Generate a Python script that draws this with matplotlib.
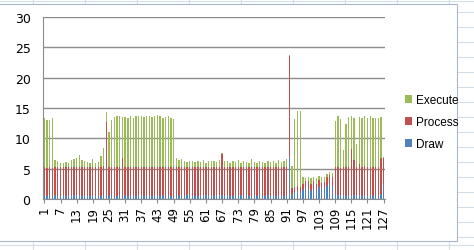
import matplotlib
matplotlib.use("Agg")
import matplotlib.pyplot as plt
from matplotlib.lines import Line2D
from matplotlib.patches import Rectangle

# frame numbers 1..127
frames = list(range(1, 128))
tick_labels = [str(i) for i in range(1, 128, 6)]

draw = [0.6, 0.5, 0.6, 0.5, 0.6, 0.5, 0.5, 0.6, 0.5, 0.6,
        0.5, 0.6, 0.6, 0.5, 0.5, 0.6, 0.5, 0.5, 0.6, 0.5,
        0.6, 0.5, 0.6, 0.6, 0.5, 0.6, 0.5, 0.5, 0.6, 0.5,
        0.6, 0.5, 0.5, 0.6, 0.5, 0.6, 0.6, 0.5, 0.5, 0.6,
        0.5, 0.6, 0.5, 0.5, 0.6, 0.5, 0.6, 0.5, 0.5, 0.6,
        0.5, 0.6, 0.5, 0.7, 0.6, 0.6, 0.5, 0.5, 0.6, 0.5,
        0.6, 0.5, 0.6, 0.5, 0.7, 0.6, 0.6, 0.5, 0.6, 0.5,
        0.5, 0.6, 0.5, 0.6, 0.5, 0.6, 0.5, 0.5, 0.6, 0.5,
        0.6, 0.5, 0.5, 0.6, 0.5, 0.6, 0.5, 0.5, 0.6, 0.5,
        0.6, 7.0, 0.9, 1.1, 1.2, 1.2, 1.5, 1.8, 1.6, 1.4,
        1.7, 1.5, 1.9, 1.6, 1.8, 2.1, 2.4, 2.2, 0.8, 0.6,
        0.5, 0.6, 0.5, 0.6, 0.5, 0.6, 0.5, 0.6, 0.5, 0.6,
        0.5, 0.6, 0.5, 0.6, 0.5, 0.8, 2.5]

process = [4.7, 4.6, 4.7, 4.6, 4.7, 4.8, 4.7, 4.6, 4.7, 4.6,
           4.8, 4.7, 4.6, 4.8, 4.7, 4.6, 4.7, 4.8, 4.6, 4.7,
           4.6, 4.7, 4.8, 12.1, 4.7, 4.6, 4.7, 4.8, 4.6, 6.2,
           4.6, 4.7, 4.8, 4.6, 4.7, 4.6, 4.6, 4.7, 4.8, 4.6,
           4.7, 4.6, 4.8, 4.7, 4.6, 4.7, 4.6, 4.8, 4.7, 4.6,
           4.7, 4.6, 4.7, 4.6, 4.6, 4.7, 4.8, 4.7, 4.6, 4.7,
           4.6, 4.7, 4.6, 4.8, 4.6, 4.7, 6.8, 4.8, 4.6, 4.7,
           4.7, 4.6, 4.8, 4.6, 4.7, 4.6, 4.7, 4.8, 4.6, 4.7,
           4.6, 4.7, 4.8, 4.6, 4.7, 4.6, 4.7, 4.8, 4.6, 4.7,
           4.6, 16.6, 0.9, 0.8, 0.9, 0.8, 1.0, 1.2, 1.4, 1.1,
           1.2, 1.0, 1.3, 1.1, 1.0, 1.5, 1.6, 1.5, 4.4, 4.7,
           4.6, 4.6, 4.7, 4.7, 7.8, 5.9, 4.8, 5.2, 4.8, 4.9,
           4.8, 4.6, 4.7, 4.6, 4.8, 6.0, 4.3]

execute = [8.1, 7.9, 7.8, 8.3, 1.1, 0.9, 0.8, 0.8, 0.9, 0.8,
           1.1, 1.3, 1.5, 2.0, 1.3, 1.1, 0.9, 0.7, 1.4, 0.8,
           0.9, 1.9, 3.0, 1.6, 5.9, 7.8, 8.3, 8.4, 8.4, 6.8,
           8.3, 8.2, 8.4, 8.2, 8.5, 8.4, 8.5, 8.3, 8.4, 8.5,
           8.3, 8.4, 8.5, 8.4, 8.2, 8.3, 8.5, 8.1, 8.0, 1.5,
           1.3, 1.4, 1.0, 0.8, 1.1, 0.9, 0.8, 1.0, 0.9, 1.2,
           0.8, 1.0, 1.1, 0.9, 0.8, 1.2, 0.2, 0.9, 1.0, 0.8,
           1.1, 0.9, 1.2, 0.8, 1.0, 0.9, 0.8, 1.3, 0.9, 0.8,
           1.0, 0.9, 0.7, 1.1, 0.9, 1.0, 0.8, 1.2, 0.9, 1.1,
           1.4, 0.2, 3.7, 11.3, 12.4, 12.5, 1.1, 0.5, 0.7, 0.9,
           0.7, 1.0, 0.6, 0.9, 0.9, 0.6, 0.4, 0.6, 7.7, 8.3,
           8.1, 2.8, 7.2, 8.2, 5.3, 6.9, 3.7, 7.7, 8.0, 8.1,
           8.1, 8.4, 8.1, 8.1, 8.1, 6.7, 0.2]

c_draw = '#4F81BD'
c_proc = '#C0504D'
c_exec = '#9BBB59'
grid_c = '#8C8C8C'

fig = plt.figure(figsize=(4.74, 2.51), dpi=100)
fig.patch.set_facecolor('white')

# spreadsheet cells behind the chart
cell_c = '#D4DCE8'
for x in range(33, 474, 52):
    fig.add_artist(Line2D([x / 474, x / 474], [1 - 0 / 251, 1 - 5 / 251], color=cell_c, lw=0.8, zorder=-2))
    fig.add_artist(Line2D([x / 474, x / 474], [0, 1 - 242 / 251], color=cell_c, lw=0.8, zorder=-2))
for y in range(13, 251, 15):
    fig.add_artist(Line2D([457 / 474, 1], [1 - y / 251, 1 - y / 251], color=cell_c, lw=0.8, zorder=-2))
fig.add_artist(Line2D([0, 1], [1 - 2 / 251, 1 - 2 / 251], color=cell_c, lw=0.8, zorder=-2))
fig.add_artist(Line2D([0, 1], [1 - 246 / 251, 1 - 246 / 251], color=cell_c, lw=0.8, zorder=-2))
fig.add_artist(Rectangle((-0.01, 1 - 242 / 251), 457 / 474 + 0.01, 237 / 251,
                         transform=fig.transFigure, facecolor='white',
                         edgecolor='#A9B8CC', lw=0.8, zorder=-1))

ax = fig.add_axes([43 / 474, 1 - 200 / 251, 342 / 474, 182 / 251])
ax.patch.set_alpha(0)

bottom2 = [d + p for d, p in zip(draw, process)]
w = 0.5
ax.bar(frames, draw, width=w, color=c_draw, label='Draw', zorder=3)
ax.bar(frames, process, width=w, bottom=draw, color=c_proc, label='Process', zorder=3)
ax.bar(frames, execute, width=w, bottom=bottom2, color=c_exec, label='Execute', zorder=3)

ax.set_xlim(0.5, 127.5)
ax.set_ylim(0, 30)
ax.set_yticks(range(0, 31, 5))
ax.yaxis.grid(True, color=grid_c, lw=1.0, zorder=1)
ax.set_axisbelow(True)
ax.set_xticks(range(1, 128, 6))
ax.set_xticklabels(tick_labels, rotation=90, fontsize=8.5)
ax.tick_params(axis='y', length=0, labelsize=9, pad=9)
ax.tick_params(axis='x', length=3, color=grid_c, pad=2)
for s in ['top', 'right']:
    ax.spines[s].set_visible(False)
ax.spines['left'].set_color(grid_c)
ax.spines['bottom'].set_color(grid_c)

h, l = ax.get_legend_handles_labels()
fig.legend(h[::-1], l[::-1], loc='center left', bbox_to_anchor=(394 / 474, 1 - 123 / 251),
           frameon=False, prop={'family': 'Liberation Sans', 'size': 8.5},
           handlelength=0.6, handleheight=0.6, handletextpad=0.35, labelspacing=0.85)

fig.savefig('out.png', dpi=100)
